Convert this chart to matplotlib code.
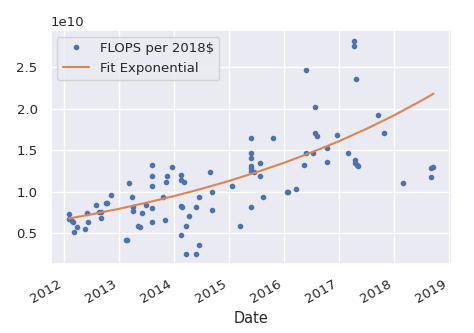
import pandas as pd
import matplotlib
matplotlib.use('Agg')
import matplotlib.pyplot as plt
import matplotlib.dates as mdates
import seaborn as sns

# FLOPS per 2018$ (in units of 1e10)
dates = [
    '2012-02-03', '2012-02-03', '2012-02-24', '2012-03-01', '2012-03-07', '2012-03-29',
    '2012-05-17', '2012-05-30', '2012-06-10', '2012-08-04', '2012-08-18', '2012-09-05',
    '2012-09-05', '2012-10-08', '2012-10-12', '2012-11-10',
    '2013-02-17', '2013-02-24', '2013-03-07', '2013-03-29', '2013-04-02', '2013-04-02',
    '2013-05-08', '2013-05-23', '2013-06-03', '2013-06-28',
    '2013-08-11', '2013-08-11', '2013-08-11', '2013-08-11', '2013-08-11',
    '2013-10-23', '2013-11-03', '2013-11-10', '2013-11-14', '2013-12-17',
    '2014-02-14', '2014-02-17', '2014-03-07', '2014-02-17', '2014-02-20', '2014-02-17',
    '2014-03-22', '2014-03-22', '2014-04-09', '2014-05-27', '2014-05-27', '2014-06-18',
    '2014-06-18', '2014-08-30', '2014-09-13', '2014-09-13',
    '2015-01-19', '2015-03-14',
    '2015-05-27', '2015-05-27', '2015-05-27', '2015-05-27', '2015-05-27', '2015-05-27',
    '2015-06-18', '2015-05-27', '2015-07-28', '2015-07-28', '2015-08-15', '2015-10-23',
    '2016-01-19', '2016-01-30', '2016-03-21', '2016-05-15', '2016-05-26', '2016-05-30',
    '2016-07-13', '2016-07-27', '2016-07-27', '2016-08-11', '2016-10-16', '2016-10-16',
    '2016-12-16',
    '2017-02-28', '2017-04-13', '2017-04-13', '2017-04-24', '2017-04-17', '2017-04-17',
    '2017-04-28', '2017-05-09', '2017-09-20', '2017-10-27',
    '2018-03-04', '2018-09-06', '2018-09-06', '2018-09-21',
]
flops = [
    0.73, 0.67, 0.65, 0.63, 0.51, 0.57,
    0.55, 0.74, 0.63, 0.84, 0.75, 0.75,
    0.68, 0.86, 0.86, 0.96,
    0.41, 0.41, 1.10, 0.94, 0.81, 0.76,
    0.58, 0.57, 0.74, 0.84,
    1.32, 1.19, 1.07, 0.80, 0.63,
    0.94, 0.66, 1.12, 1.19, 1.30,
    1.20, 1.14, 1.12, 0.82, 0.81, 0.48,
    0.58, 0.25, 0.71, 0.81, 0.25, 0.36,
    0.94, 1.24, 1.00, 0.78,
    1.07, 0.58,
    1.65, 1.47, 1.40, 1.31, 1.28, 1.25,
    1.24, 0.81, 1.35, 1.19, 0.93, 1.64,
    0.99, 1.00, 1.03, 1.32, 2.47, 1.46,
    1.47, 2.02, 1.71, 1.67, 1.52, 1.36,
    1.68,
    1.46, 2.82, 2.75, 2.36, 1.38, 1.34,
    1.32, 1.31, 1.92, 1.71,
    1.10, 1.18, 1.28, 1.30,
]

# exponential fit curve
fit_dates = [
    '2012-02-03', '2012-07-01', '2013-01-01', '2013-07-01', '2014-01-01', '2014-07-01',
    '2015-01-01', '2015-07-01', '2016-01-01', '2016-07-01', '2017-01-01', '2017-07-01',
    '2018-01-01', '2018-07-01', '2018-09-21',
]
fit_values = [
    0.675, 0.725, 0.792, 0.865, 0.945, 1.032,
    1.128, 1.232, 1.346, 1.471, 1.607, 1.755,
    1.918, 2.095, 2.180,
]

sns.set_theme(style='darkgrid', context='notebook', font_scale=0.87)

df = pd.DataFrame({'date': pd.to_datetime(dates), 'flops': [v * 1e10 for v in flops]})
fit = pd.DataFrame({'date': pd.to_datetime(fit_dates), 'flops': [v * 1e10 for v in fit_values]})

fig = plt.figure(figsize=(4.74, 3.33), dpi=100)
ax = fig.add_axes([0.107, 0.206, 0.846, 0.704])
ax.plot(df['date'], df['flops'], '.', markersize=6, label='FLOPS per 2018$')
ax.plot(fit['date'], fit['flops'], label='Fit Exponential')
ax.xaxis.set_major_locator(mdates.YearLocator())
ax.xaxis.set_major_formatter(mdates.DateFormatter('%Y'))
ax.set_yticks([0.5e10, 1.0e10, 1.5e10, 2.0e10, 2.5e10])
for lbl in ax.get_xticklabels():
    lbl.set_rotation(30)
    lbl.set_ha('right')
ax.set_xlabel('Date')
ax.legend(loc='upper left')

fig.savefig('out.png', dpi=100)
